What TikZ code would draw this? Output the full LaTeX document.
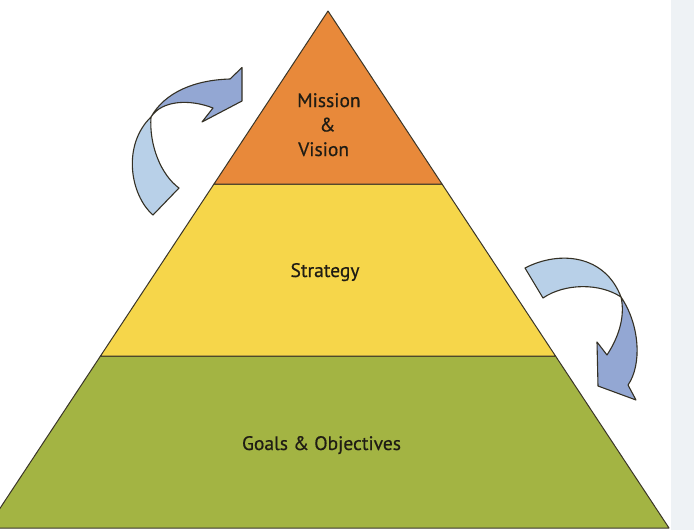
\documentclass[tikz,border=0pt]{standalone}
\usepackage{fontspec}
\setmainfont[FakeBold=0.5]{PT Sans}
\definecolor{orangeband}{HTML}{E8893A}
\definecolor{yellowband}{HTML}{F6D64A}
\definecolor{greenband}{HTML}{A3B443}
\definecolor{arrowlight}{HTML}{B8D0E8}
\definecolor{arrowdark}{HTML}{93A7D3}
\definecolor{edge}{HTML}{3A3528}
\definecolor{strip}{HTML}{EEF2F5}
\definecolor{txt}{HTML}{1F1C14}
\begin{document}
\begin{tikzpicture}[x=1pt,y=-1pt,
  band/.style={draw=edge,line width=1pt,line join=round},
  arrowpart/.style={draw=edge!90!black,line width=1.1pt,line join=round},
  label/.style={text=txt,font=\fontsize{19.5}{22}\selectfont,inner sep=0pt}]
\useasboundingbox (0,0) rectangle (694,530);
\fill[white] (0,0) rectangle (694,530);
\fill[strip] (671,0) rectangle (694,530);
\begin{scope}
\clip (0,0) rectangle (694,530);
% pyramid bands
\path[band,fill=greenband] (100.5,356) -- (555.5,356) -- (669,528) -- (-13,528) -- cycle;
\path[band,fill=yellowband] (214,184) -- (442,184) -- (555.5,356) -- (100.5,356) -- cycle;
\path[band,fill=orangeband] (328,11) -- (442,184) -- (214,184) -- cycle;
\end{scope}
% left curved arrow
\path[arrowpart,fill=arrowlight] (153,215) .. controls (130,195) and (122,145) .. (151,117)
  .. controls (149,145) and (161,175) .. (179,188) -- cycle;
\path[arrowpart,fill=arrowdark] (151,117) .. controls (165,92) and (195,80) .. (230,79)
  -- (242,67.5) -- (242,101) -- (202,122) -- (213,108)
  .. controls (190,99) and (162,100) .. (151,117) -- cycle;
% right curved arrow
\path[arrowpart,fill=arrowlight] (525,268) .. controls (560,250) and (605,255) .. (621,297)
  .. controls (600,283) and (565,283) .. (543,298) -- cycle;
\path[arrowpart,fill=arrowdark] (621,297) .. controls (640,325) and (642,365) .. (628,385)
  -- (636,400) -- (598,386) -- (597,342) -- (607,355)
  .. controls (620,335) and (625,315) .. (621,297) -- cycle;
% labels
\node[label,anchor=base west] (mission) at (297,107) {Mission};
\node[label,anchor=base] (amp) at (327.5,131.5) {\&};
\node[label,anchor=base west] (vision) at (298,156) {Vision};
\node[label,anchor=base] (strategy) at (325,277) {Strategy};
\node[label,anchor=base] (goals) at (321.5,450) {Goals \& Objectives};
\end{tikzpicture}
\end{document}
